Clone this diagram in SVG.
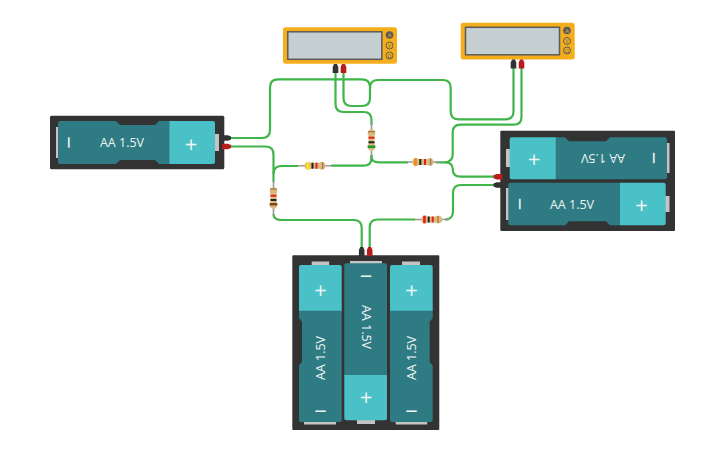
<svg xmlns="http://www.w3.org/2000/svg" width="725" height="453" viewBox="0 0 725 453">
<style>
.w{fill:none;stroke:#3fb54a;stroke-width:2.2}
.case{fill:#333}
.b{fill:#2f7b83}
.p{fill:#49c1c6}
.c{fill:#c4c4c4}
.t{font-family:"Open Sans","Liberation Sans",sans-serif;font-size:12.5px;fill:#eef5f5;text-anchor:middle;dominant-baseline:central}
.s{font-family:"Open Sans","Liberation Sans",sans-serif;font-size:22px;fill:#eef5f5;text-anchor:middle;dominant-baseline:central}
.l{font-family:"Open Sans","Liberation Sans",sans-serif;font-size:5px;text-anchor:middle;dominant-baseline:central;fill:#5b5b5b}
.li{fill:#f5ae1b}
.m{fill:#f5ae1b}
.sc{fill:#c5ced0;stroke:#5b5b5b;stroke-width:1.5}
.bt{fill:none;stroke:#5b5b5b;stroke-width:1}
.bk{fill:#333}
.rd{fill:#b81c1c}
.lead{stroke:#999;stroke-width:1.6}
.rb{fill:#dbb97f}
</style>
<defs>
<g id="rbody">
<line class="lead" x1="-17" y1="0" x2="17" y2="0"/>
<path class="rb" d="M-11 0Q-10-3.800-7-3.800H-5.500L-4.500-3H4.500L5.500-3.800H7Q10-3.800 11 0Q10 3.800 7 3.800H5.500L4.500 3H-4.500L-5.500 3.800H-7Q-10 3.800-11 0Z"/>
</g>
<g id="tb"><path class="bk" d="M-2.800 5V-1L-1.500-4H1.500L2.800-1V5Z"/></g>
<g id="tr"><path class="rd" d="M-2.800 5V-1L-1.500-4H1.500L2.800-1V5Z"/></g>
</defs>

<g id="connectors">
<path class="w" d="M343.500 69V98Q343.500 106 351.500 106H362Q370 106 370 98V87Q370 79.300 362 79.300H278Q270 79.300 270 87.300V130Q270 138 262 138H230"/>
<path class="w" d="M335.500 69V104Q335.500 112 343.500 112H364Q371.500 112 371.500 120V125"/>
<path class="w" d="M370 88Q370 80 378 80H443Q450.700 80 450.700 88V111.500Q450.700 119.300 458.500 119.300H505.500Q513.500 119.300 513.500 111.300V64"/>
<path class="w" d="M521.500 64V116.700Q521.500 124.700 513.500 124.700H460.700Q452.700 124.700 452.700 132.700V154.300Q452.700 162.300 444.700 162.300H436"/>
<path class="w" d="M446 162.300H444.700Q452.700 162.300 452.700 168.700Q452.700 176.700 460.700 176.700H496"/>
<path class="w" d="M371.500 155V158Q371.500 165.700 363.500 165.700H331"/>
<path class="w" d="M371.500 155V157Q371.500 162.300 379 162.300H408"/>
<path class="w" d="M230 146.500H265.500Q273.500 146.500 273.500 154.500V182"/>
<path class="w" d="M273.500 174Q273.500 166 281.500 166H298"/>
<path class="w" d="M273.500 214Q273.500 220 281.500 220H353.700Q361.700 220 361.700 228V251"/>
<path class="w" d="M369.700 251V227.500Q369.700 219.500 377.700 219.500H415"/>
<path class="w" d="M448 219.500H445Q453 219.500 453 211.500V193Q453 185 461 185H496"/>
</g>

<g id="r1" transform="translate(423 162)">
<use href="#rbody"/>
<rect x="-9" y="-3.800" width="2.800" height="7.600" fill="#f28c1e"/>
<rect x="-3.700" y="-3" width="2" height="6" fill="#222"/>
<rect x="1" y="-3" width="2" height="6" fill="#e3201c"/>
<rect x="7.200" y="-3.500" width="1" height="7" fill="#8c6a33"/>
</g>
<g id="r2" transform="translate(315 165.700)">
<use href="#rbody"/>
<rect x="-8.500" y="-3.800" width="2.800" height="7.600" fill="#f5e614"/>
<rect x="-3.500" y="-3" width="2" height="6" fill="#222"/>
<rect x="0.500" y="-3" width="2" height="6" fill="#e3201c"/>
<rect x="7.200" y="-3.500" width="1" height="7" fill="#8c6a33"/>
</g>
<g id="r3" transform="translate(431.700 219.500)">
<use href="#rbody"/>
<rect x="-8.500" y="-3.800" width="2.500" height="7.600" fill="#e3201c"/>
<rect x="-4" y="-3" width="2" height="6" fill="#222"/>
<rect x="0" y="-3" width="2" height="6" fill="#e3201c"/>
<rect x="5.800" y="-3.500" width="1" height="7" fill="#8c6a33"/>
</g>
<g id="r4" transform="translate(371.500 140) rotate(90)">
<use href="#rbody"/>
<rect x="-8.700" y="-3.500" width="1" height="7" fill="#8c6a33"/>
<rect x="-3.300" y="-3" width="2" height="6" fill="#e3201c"/>
<rect x="1.300" y="-3" width="2" height="6" fill="#222"/>
<rect x="5.500" y="-3.800" width="2.500" height="7.600" fill="#1c9a2e"/>
</g>
<g id="r5" transform="translate(273.500 198) rotate(90)">
<use href="#rbody"/>
<rect x="-9.500" y="-3.500" width="1" height="7" fill="#8c6a33"/>
<rect x="-3.300" y="-3" width="2" height="6" fill="#e3201c"/>
<rect x="1" y="-3" width="2" height="6" fill="#222"/>
<rect x="5" y="-3.800" width="2.500" height="7.600" fill="#7a4a1c"/>
</g>

<g id="meter1">
<rect class="m" x="283" y="27.300" width="114" height="36.500" rx="2.500"/>
<rect class="sc" x="287.800" y="31.800" width="94" height="27.500"/>
<circle cx="389.500" cy="35" r="3.800" fill="#5b5b5b"/>
<text class="l li" x="389.500" y="35">A</text>
<circle class="bt" cx="389.500" cy="45.500" r="3.500"/>
<text class="l" x="389.500" y="45.500">V</text>
<circle class="bt" cx="389.500" cy="55.500" r="3.500"/>
<text class="l" x="389.500" y="55.500">Ω</text>
<use href="#tb" x="335.500" y="68"/>
<use href="#tr" x="343.500" y="68"/>
</g>

<g id="meter2">
<rect class="m" x="460.700" y="22.700" width="114" height="36.800" rx="2.500"/>
<rect class="sc" x="465.500" y="27.300" width="94" height="27.500"/>
<circle cx="567" cy="30.500" r="3.800" fill="#5b5b5b"/>
<text class="l li" x="567" y="30.500">A</text>
<circle class="bt" cx="567" cy="41" r="3.500"/>
<text class="l" x="567" y="41">V</text>
<circle class="bt" cx="567" cy="50.500" r="3.500"/>
<text class="l" x="567" y="50.500">Ω</text>
<use href="#tb" x="513.500" y="63.500"/>
<use href="#tr" x="521.500" y="63.500"/>
</g>

<g id="battery1">
<rect class="case" x="50" y="115.700" width="174.300" height="53.600" rx="1.500"/>
<rect class="c" x="56" y="127" width="3" height="31"/>
<rect class="c" x="214" y="134" width="5" height="17"/>
<path class="b" d="M60 121H116L120 125H155L159 121H169.500V164H159L155 160H120L116 164H60Q58 164 58 162V123Q58 121 60 121Z"/>
<path class="p" d="M169.300 121H213Q215 121 215 123V162Q215 164 213 164H169.300Z"/>
<text class="t" x="122" y="142.500">AA 1.5V</text>
<text class="s" x="191" y="142.500">+</text>
<text class="s" x="70" y="142.500" transform="rotate(90 70 142.500)">−</text>
<g transform="translate(227 138) rotate(90)"><use href="#tb"/></g>
<g transform="translate(227 146.500) rotate(90)"><use href="#tr"/></g>
</g>

<g id="battery2">
<rect class="case" x="500.300" y="130.700" width="174.700" height="100.300" rx="1"/>
<rect class="c" x="506" y="149" width="4" height="18"/>
<rect class="c" x="667" y="143" width="2.500" height="30"/>
<rect class="c" x="506" y="188" width="3" height="32"/>
<rect class="c" x="665" y="196" width="4.500" height="16"/>
<path class="b" d="M555 137.300H565L569 141.300H606L610 137.300H665Q667 137.300 667 139.300V177.300Q667 179.300 665 179.300H555Z"/>
<path class="p" d="M511.700 137.300H555.700V179.300H511.700Q509.700 179.300 509.700 177.300V139.300Q509.700 137.300 511.700 137.300Z"/>
<path class="b" d="M510.300 182.700H620.500V225.300H610L606 221.300H569L565 225.300H510.300Q508.300 225.300 508.300 223.300V184.700Q508.300 182.700 510.300 182.700Z"/>
<path class="p" d="M620 182.700H663.700Q665.700 182.700 665.700 184.700V223.300Q665.700 225.300 663.700 225.300H620Z"/>
<text class="t" x="603" y="158" transform="rotate(180 603 158)">AA 1.5V</text>
<text class="s" x="534" y="158">+</text>
<text class="s" x="655" y="158" transform="rotate(90 655 158)">−</text>
<text class="t" x="572" y="204">AA 1.5V</text>
<text class="s" x="641.500" y="204">+</text>
<text class="s" x="520.500" y="204" transform="rotate(90 520.500 204)">−</text>
<g transform="translate(497.500 176.700) rotate(-90)"><use href="#tr"/></g>
<g transform="translate(497.500 185) rotate(-90)"><use href="#tb"/></g>
</g>

<g id="battery3">
<rect class="case" x="292.300" y="255.300" width="147" height="174.700" rx="1"/>
<rect class="c" x="311.700" y="261.500" width="17.500" height="4"/>
<rect class="c" x="304" y="421" width="32" height="3.500"/>
<rect class="c" x="350" y="261" width="32" height="3"/>
<rect class="c" x="357" y="420" width="18" height="4"/>
<rect class="c" x="402" y="261.500" width="18" height="4"/>
<rect class="c" x="395.700" y="421" width="31.500" height="3.500"/>
<path class="b" d="M299 310H341.700V420Q341.700 422 339.700 422H301Q299 422 299 420V365.500L302 361.700V321.700L299 318Z"/>
<path class="p" d="M301 265H339.700Q341.700 265 341.700 267V310.700H299V267Q299 265 301 265Z"/>
<path class="b" d="M346.300 263.300H385Q387 263.300 387 265.300V376H344.300V265.300Q344.300 263.300 346.300 263.300Z"/>
<path class="p" d="M344.300 375H387V418.300Q387 420.300 385 420.300H346.300Q344.300 420.300 344.300 418.300Z"/>
<path class="b" d="M390 310H432.700V318L429.700 321.700V361.700L432.700 365.500V420Q432.700 422 430.700 422H392Q390 422 390 420Z"/>
<path class="p" d="M392 265H430.700Q432.700 265 432.700 267V310.700H390V267Q390 265 392 265Z"/>
<text class="t" x="320.500" y="358" transform="rotate(-90 320.500 358)">AA 1.5V</text>
<text class="s" x="320.500" y="289">+</text>
<text class="s" x="320.500" y="410">−</text>
<text class="t" x="366" y="327" transform="rotate(90 366 327)">AA 1.5V</text>
<text class="s" x="366" y="396">+</text>
<text class="s" x="366" y="275">−</text>
<text class="t" x="411.500" y="358" transform="rotate(-90 411.500 358)">AA 1.5V</text>
<text class="s" x="411.500" y="289">+</text>
<text class="s" x="411.500" y="410">−</text>
<use href="#tb" x="361.700" y="251"/>
<use href="#tr" x="369.700" y="251"/>
</g>
</svg>
